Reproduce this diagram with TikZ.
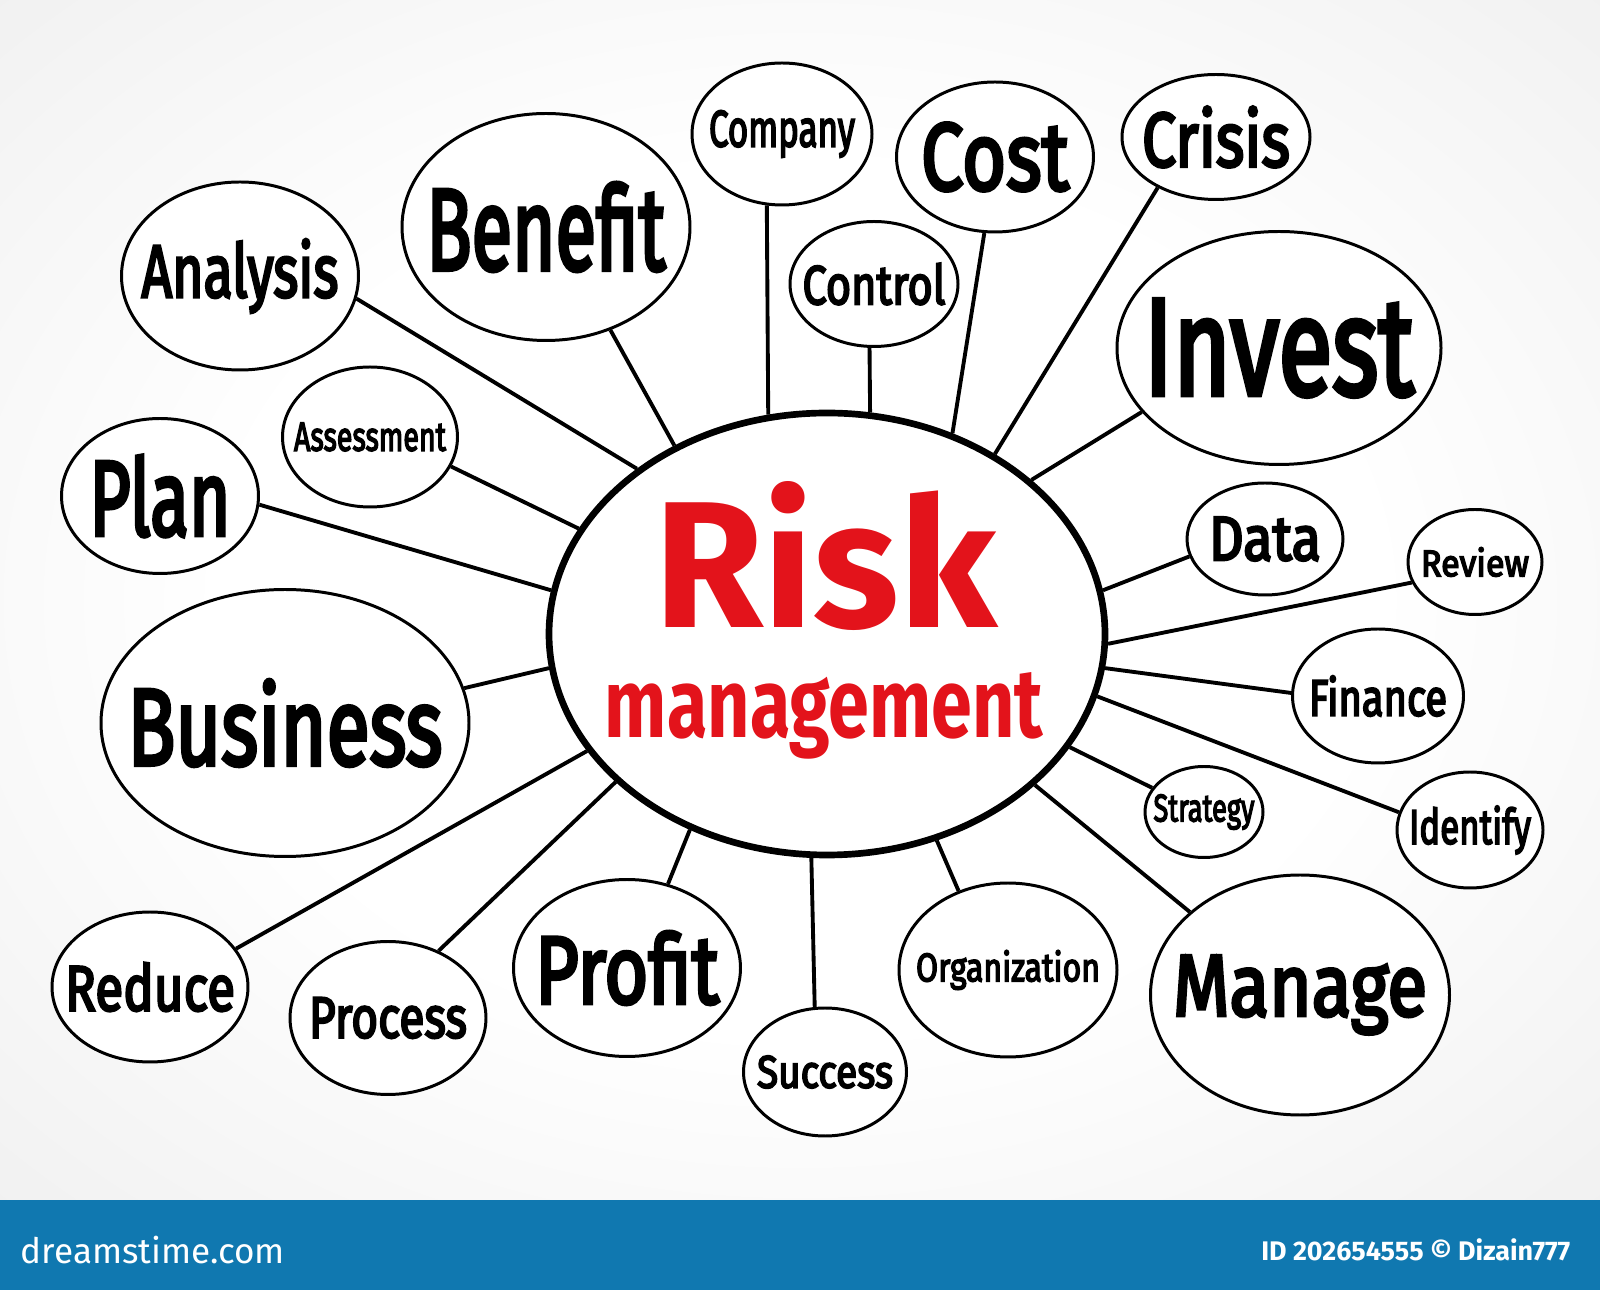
\documentclass[tikz,border=0pt]{standalone}
\usepackage{fontspec}
\setmainfont{Fira Sans}
\newfontfamily\hand{Fira Sans}[FakeBold=4]
\usetikzlibrary{shapes.geometric}
\definecolor{riskred}{RGB}{227,19,27}
\definecolor{barblue}{RGB}{16,120,176}
\pgfdeclareradialshading{paper}{\pgfpoint{0bp}{0bp}}{color(0bp)=(white); color(18bp)=(white); color(34bp)=(black!5); color(50bp)=(black!9)}
% word of given width and height, centred on zero width
\newcommand{\word}[3]{\makebox[0pt]{\resizebox{#1}{#2}{\hand #3}}}
\newcommand{\redword}[3]{\makebox[0pt]{\resizebox{#1}{#2}{\bfseries #3}}}

\begin{document}
\begin{tikzpicture}[x=0.1mm,y=-0.1mm]
\tikzset{bub/.style 2 args={ellipse,draw,line width=0.85pt,fill=white,inner sep=0pt,minimum width=#1,minimum height=#2},
  link/.style={line width=1.1pt},
  bartext/.style={text=white,inner sep=0pt}}
\useasboundingbox (0,0) rectangle (1600,1290);
\shade[shading=paper] (0,0) rectangle (1600,1200);
\fill[barblue] (0,1200) rectangle (1600,1290);

\node[bub={55.6mm}{44.2mm},line width=1.9pt] (R) at (827,634) {};
\node[text=riskred,inner sep=0pt] (risk) at (826,556) {\redword{34.3mm}{14.6mm}{Risk}};
\node[text=riskred,inner sep=0pt] (mgmt) at (824,716) {\redword{43.8mm}{6.5mm}{management}};

\node[bub={23.7mm}{18.8mm}] (analysis) at (240,276) {\word{19.7mm}{5.8mm}{Analysis}};
\node[bub={28.8mm}{22.7mm}] (benefit) at (546,227) {\word{23.9mm}{8.7mm}{Benefit}};
\node[bub={18mm}{14.2mm}] (company) at (782,134) {\word{14.6mm}{3.6mm}{Company}};
\node[bub={19.7mm}{15mm}] (cost) at (995,157) {\word{14.8mm}{6.7mm}{Cost}};
\node[bub={18.8mm}{12.5mm}] (crisis) at (1216,137) {\word{14.8mm}{6mm}{Crisis}};
\node[bub={16.8mm}{12.5mm}] (control) at (874,284) {\word{14.3mm}{4.1mm}{Control}};
\node[bub={32.4mm}{23.3mm}] (invest) at (1279,348) {\word{27mm}{9.5mm}{Invest}};
\node[bub={17.5mm}{14mm}] (assess) at (370,437) {\word{15.2mm}{2.8mm}{Assessment}};
\node[bub={19.7mm}{15.5mm}] (plan) at (160,496) {\word{14.1mm}{8mm}{Plan}};
\node[bub={36.8mm}{26.7mm}] (business) at (285,723) {\word{31.5mm}{8.5mm}{Business}};
\node[bub={15.6mm}{11.2mm}] (data) at (1265,539) {\word{11.2mm}{4.3mm}{Data}};
\node[bub={13.4mm}{10.5mm}] (review) at (1475,562) {\word{10.8mm}{2.9mm}{Review}};
\node[bub={17.1mm}{13.4mm}] (finance) at (1378,696) {\word{13.8mm}{4mm}{Finance}};
\node[bub={14.6mm}{11.6mm}] (identify) at (1470,830) {\word{12.2mm}{3.8mm}{Identify}};
\node[bub={11.8mm}{9.1mm}] (strategy) at (1204,812) {\word{10.1mm}{2.7mm}{Strategy}};
\node[bub={29.9mm}{24mm}] (manage) at (1300,995) {\word{25.4mm}{6mm}{Manage}};
\node[bub={21.8mm}{17.4mm}] (organization) at (1008,970) {\word{18.4mm}{3.1mm}{Organization}};
\node[bub={16.3mm}{12.8mm}] (success) at (825,1072) {\word{13.6mm}{3.2mm}{Success}};
\node[bub={22.7mm}{17.7mm}] (profit) at (627,968) {\word{18.4mm}{7.2mm}{Profit}};
\node[bub={19.6mm}{15.3mm}] (process) at (388,1018) {\word{15.8mm}{4mm}{Process}};
\node[bub={19.6mm}{15mm}] (reduce) at (150,987) {\word{17mm}{4.8mm}{Reduce}};

\draw[link] (R.139) -- (analysis.-11);
\draw[link] (R.129) -- (benefit.-58);
\draw[link] (R.105) -- (company.-102);
\draw[link] (R.79) -- (control.-94);
\draw[link] (R.58) -- (cost.-98);
\draw[link] (R.47) -- (crisis.-139);
\draw[link] (R.37) -- (invest.-155);
\draw[link] (R.157) -- (assess.-20);
\draw[link] (R.171) -- (plan.-5);
\draw[link] (R.187) -- (business.11);
\draw[link] (R.9.5) -- (data.-167);
\draw[link] (R.-2) -- (review.-162);
\draw[link] (R.-7) -- (finance.178);
\draw[link] (R.-13) -- (identify.166);
\draw[link] (R.-25) -- (strategy.155);
\draw[link] (R.-36) -- (manage.143);
\draw[link] (R.-62) -- (organization.122);
\draw[link] (R.-94) -- (success.99);
\draw[link] (R.-125) -- (profit.64);
\draw[link] (R.-145) -- (process.53);
\draw[link] (R.-154) -- (reduce.24);

\node[bartext,anchor=west] (stock) at (20,1250) {\resizebox{26.4mm}{!}{dreamstime.com}};
\node[bartext,anchor=east] (imgid) at (1571,1250) {\resizebox{30.9mm}{!}{\bfseries ID 202654555 © Dizain777}};
\end{tikzpicture}
\end{document}
